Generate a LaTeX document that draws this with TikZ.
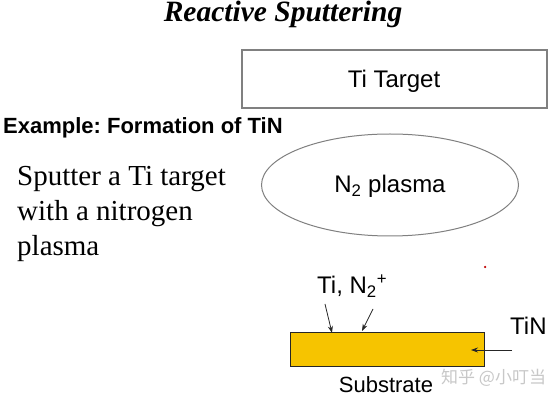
\documentclass[tikz,border=0pt]{standalone}
\usepackage{fontspec}
\setmainfont{Liberation Serif}
\setsansfont{Liberation Sans}
\newfontfamily\cjk{Noto Sans CJK SC}
\usetikzlibrary{arrows.meta,shapes.geometric}
\definecolor{boxgray}{RGB}{128,128,128}
\definecolor{gold}{RGB}{246,196,0}
\definecolor{wmgray}{RGB}{200,200,200}
\frenchspacing
\begin{document}
\begin{tikzpicture}[x=1pt,y=-1pt,
  lbl/.style={inner sep=0pt, anchor=base, font=\sffamily\fontsize{24}{28}\selectfont},
  serif/.style={inner sep=0pt, anchor=base west, font=\rmfamily\fontsize{29}{34}\selectfont},
  arr/.style={-{Stealth[length=7pt,width=5pt]}, line width=0.8pt, black!85}]
\useasboundingbox[fill=white] (0,0) rectangle (558,401);
% title
\node[inner sep=0pt, anchor=base, font=\rmfamily\bfseries\itshape\fontsize{29.5}{32}\selectfont] (title) at (283,22) {Reactive Sputtering};
% target
\node[draw=boxgray, line width=1.4pt, minimum width=305pt, minimum height=58pt, inner sep=0pt] (target) at (394.5,79) {};
\node[lbl] (targettxt) at (394,88) {Ti Target};
% example heading
\node[inner sep=0pt, anchor=base west, font=\sffamily\bfseries\fontsize{22}{26}\selectfont] (example) at (3,134) {Example: Formation of TiN};
% body text
\node[serif] (l1) at (17,186) {Sputter a Ti target};
\node[serif] (l2) at (17,221) {with a nitrogen};
\node[serif] (l3) at (17,256) {plasma};
% plasma ellipse
\node[draw=boxgray, ellipse, line width=1pt, minimum width=257pt, minimum height=102pt, inner sep=0pt] (plasma) at (390,185) {};
\node[lbl] (plasmatxt) at (390,193) {N\textsubscript{2} plasma};
% red dot
\node[circle, fill=red!75!black, inner sep=0pt, minimum size=2.5pt] (dot) at (485,267) {};
% species label
\node[lbl, anchor=base west] (species) at (317,294) {Ti, N\textsubscript{2}\textsuperscript{+}};
% substrate
\node[draw=black!85, fill=gold, line width=1pt, minimum width=194pt, minimum height=34pt, inner sep=0pt] (sub) at (387,350) {};
\node[lbl, font=\sffamily\fontsize{22}{26}\selectfont] (subtxt) at (386,392) {Substrate};
\node[lbl, anchor=base west] (tin) at (510,335) {TiN};
% arrows
\coordinate (a1s) at (325,304);
\coordinate (a1e) at (332,333);
\coordinate (a2s) at (373,309);
\coordinate (a2e) at (362,331);
\coordinate (a3s) at (512,350);
\coordinate (a3e) at (471,350);
\draw[arr] (a1s) -- (a1e);
\draw[arr] (a2s) -- (a2e);
\draw[arr] (a3s) -- (a3e);
% watermark
\node[inner sep=0pt, anchor=west, text=wmgray, font=\cjk\fontsize{17}{20}\selectfont] (wm) at (441,378) {知乎 @小叮当};
\end{tikzpicture}
\end{document}
